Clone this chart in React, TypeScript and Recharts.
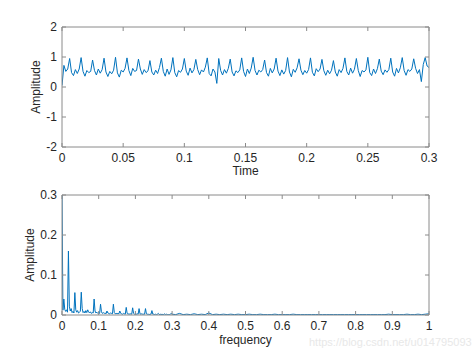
import { LineChart, Line, XAxis, YAxis } from "recharts"

const FONT = '"Liberation Sans", Arial, Helvetica, sans-serif'
const AXIS = "#8a8a8a"
const TEXT = "#262626"
const BLUE = "#0072bd"

// top subplot: signal in time
const timeTicks = [0, 0.05, 0.1, 0.15, 0.2, 0.25, 0.3]
const ampTicksTop = [-2, -1, 0, 1, 2]
const timeStep = 0.3 / 192
const signal = [
  0.05, 0.72, 0.52, 0.6, 0.95, 0.48,
  0.38, 0.58, 0.45, 0.6, 0.98, 0.52,
  0.36, 0.55, 0.48, 0.52, 0.9, 0.55,
  0.4, 0.6, 0.46, 0.58, 0.96, 0.5,
  0.35, 0.52, 0.44, 0.56, 0.99, 0.47,
  0.33, 0.56, 0.5, 0.62, 0.97, 0.55,
  0.38, 0.62, 0.52, 0.55, 0.93, 0.6,
  0.42, 0.58, 0.48, 0.54, 0.88, 0.5,
  0.4, 0.56, 0.45, 0.65, 0.96, 0.52,
  0.36, 0.6, 0.42, 0.57, 0.98, 0.48,
  0.34, 0.55, 0.49, 0.6, 0.95, 0.53,
  0.39, 0.63, 0.47, 0.58, 0.92, 0.58,
  0.41, 0.57, 0.5, 0.66, 0.97, 0.45,
  0.37, 0.6, 0.5, 0.12, 0.95, 0.55,
  0.4, 0.58, 0.46, 0.62, 0.93, 0.5,
  0.37, 0.54, 0.48, 0.57, 0.97, 0.52,
  0.35, 0.6, 0.45, 0.63, 0.99, 0.55,
  0.4, 0.56, 0.5, 0.58, 0.9, 0.48,
  0.36, 0.62, 0.47, 0.6, 0.96, 0.53,
  0.38, 0.57, 0.43, 0.55, 0.98, 0.5,
  0.34, 0.59, 0.49, 0.64, 0.94, 0.56,
  0.41, 0.55, 0.46, 0.58, 0.97, 0.49,
  0.37, 0.61, 0.51, 0.6, 0.92, 0.54,
  0.39, 0.56, 0.44, 0.56, 0.88, 0.5,
  0.36, 0.58, 0.48, 0.62, 0.97, 0.52,
  0.4, 0.63, 0.46, 0.59, 0.95, 0.55,
  0.35, 0.55, 0.5, 0.57, 0.99, 0.48,
  0.38, 0.6, 0.45, 0.61, 0.93, 0.53,
  0.41, 0.57, 0.49, 0.58, 0.96, 0.5,
  0.36, 0.62, 0.47, 0.64, 0.98, 0.55,
  0.39, 0.58, 0.52, 0.6, 0.94, 0.62,
  0.45, 0.58, 0.18, 0.75, 0.98, 0.7,
  0.65,
]

// bottom subplot: spectrum
const freqTicks = [0, 0.1, 0.2, 0.3, 0.4, 0.5, 0.6, 0.7, 0.8, 0.9, 1]
const ampTicksBottom = [0, 0.1, 0.2, 0.3]
const specLowStep = 0.0025 // 0 .. 0.2975
const specLow = [
  0.3, 0.012, 0.04, 0.014, 0.009, 0.013, 0.007, 0.16, 0.022, 0.01,
  0.016, 0.006, 0.009, 0.005, 0.056, 0.013, 0.007, 0.011, 0.005, 0.007,
  0.009, 0.057, 0.016, 0.006, 0.009, 0.005, 0.011, 0.006, 0.013, 0.008,
  0.005, 0.008, 0.004, 0.006, 0.005, 0.04, 0.01, 0.005, 0.007, 0.004,
  0.006, 0.004, 0.027, 0.008, 0.004, 0.006, 0.004, 0.005, 0.003, 0.01,
  0.005, 0.004, 0.003, 0.005, 0.004, 0.003, 0.027, 0.006, 0.003, 0.004,
  0.003, 0.004, 0.003, 0.01, 0.004, 0.003, 0.002, 0.004, 0.003, 0.002,
  0.019, 0.004, 0.002, 0.003, 0.002, 0.003, 0.002, 0.018, 0.004, 0.002,
  0.003, 0.002, 0.003, 0.002, 0.016, 0.003, 0.002, 0.003, 0.002, 0.002,
  0.002, 0.016, 0.003, 0.002, 0.002, 0.001, 0.002, 0.002, 0.011, 0.002,
  0.002, 0.001, 0.002, 0.001, 0.002, 0.004, 0.001, 0.002, 0.001, 0.002,
  0.001, 0.001, 0.003, 0.001, 0.002, 0.001, 0.001, 0.001, 0.002, 0.004,
]
const specHighStart = 0.3
const specHighStep = 0.01 // 0.30 .. 1.00
const specHigh = [
  0.002, 0.001, 0.004, 0.001, 0.002, 0.001, 0.003, 0.001, 0.002, 0.001,
  0.005, 0.001, 0.002, 0.001, 0.002, 0.001, 0.002, 0.001, 0.002, 0.001,
  0.001, 0.002, 0.001, 0.001, 0.002, 0.001, 0.001, 0.001, 0.002, 0.001,
  0.001, 0.001, 0.001, 0.002, 0.001, 0.001, 0.001, 0.001, 0.001, 0.001,
  0.001, 0.001, 0.001, 0.001, 0.001, 0.001, 0.001, 0.001, 0.001, 0.001,
  0.001, 0.001, 0.001, 0.001, 0.001, 0.001, 0.001, 0.001, 0.001, 0.002,
  0.001, 0.001, 0.001, 0.001, 0.002, 0.001, 0.001, 0.002, 0.001, 0.002,
  0.003,
]

const timeData = signal.map((v, i) => ({ t: i * timeStep, amp: v }))
const specData = [
  ...specLow.map((v, i) => ({ f: i * specLowStep, amp: v })),
  ...specHigh.map((v, i) => ({ f: specHighStart + i * specHighStep, amp: v })),
]

const BottomTick = (props: any) => {
  const { x, y, payload } = props
  return (
    <g>
      <line x1={x} x2={x} y1={y} y2={y - 4} stroke={AXIS} />
      <text x={x} y={y + 15} textAnchor="middle" fontSize={12} fill={TEXT} fontFamily={FONT}>
        {String(payload.value)}
      </text>
    </g>
  )
}

const LeftTick = (props: any) => {
  const { x, y, payload } = props
  return (
    <g>
      <line x1={x} x2={x + 4} y1={y} y2={y} stroke={AXIS} />
      <text x={x - 5} y={y + 4} textAnchor="end" fontSize={12} fill={TEXT} fontFamily={FONT}>
        {String(payload.value)}
      </text>
    </g>
  )
}

const TopTick = (props: any) => {
  const { x, y } = props
  return <line x1={x} x2={x} y1={y} y2={y + 4} stroke={AXIS} />
}

const RightTick = (props: any) => {
  const { x, y } = props
  return <line x1={x} x2={x - 4} y1={y} y2={y} stroke={AXIS} />
}

const labelStyle = { fontSize: 12, fill: TEXT, fontFamily: FONT }

export default function App() {
  return (
    <div style={{ position: "absolute", left: 0, top: 0, width: 474, height: 355, background: "#fff" }}>
      <div style={{ position: "absolute", left: 0, top: 0 }}>
        <LineChart width={474} height={180} data={timeData} margin={{ top: 26, right: 44, bottom: 0, left: 0 }}>
          <XAxis dataKey="t" type="number" domain={[0, 0.3]} ticks={timeTicks} allowDataOverflow
            height={33} tickSize={0} tickMargin={0} tickLine={false} tick={<BottomTick />}
            axisLine={{ stroke: AXIS }} interval={0}
            label={{ value: "Time", position: "insideBottom", offset: 5, style: labelStyle }} />
          <XAxis xAxisId="top" orientation="top" dataKey="t" type="number" domain={[0, 0.3]} ticks={timeTicks}
            allowDataOverflow height={1} tickSize={0} tickMargin={0} tickLine={false} tick={<TopTick />}
            axisLine={{ stroke: AXIS }} interval={0} />
          <YAxis type="number" domain={[-2, 2]} ticks={ampTicksTop} allowDataOverflow width={62}
            tickSize={0} tickMargin={0} tickLine={false} tick={<LeftTick />} axisLine={{ stroke: AXIS }} interval={0}
            label={{ value: "Amplitude", angle: -90, position: "insideLeft", offset: 36, style: { ...labelStyle, textAnchor: "middle" } }} />
          <YAxis yAxisId="right" orientation="right" type="number" domain={[-2, 2]} ticks={ampTicksTop}
            allowDataOverflow width={1} tickSize={0} tickMargin={0} tickLine={false} tick={<RightTick />}
            axisLine={{ stroke: AXIS }} interval={0} />
          {/* invisible copy so the top/right frame axes get drawn */}
          <Line xAxisId="top" yAxisId="right" dataKey="amp" stroke="none" dot={false} activeDot={false}
            legendType="none" isAnimationActive={false} />
          <Line type="linear" dataKey="amp" stroke={BLUE} strokeWidth={1} dot={false} isAnimationActive={false} />
        </LineChart>
      </div>
      <div style={{ position: "absolute", left: 0, top: 180 }}>
        <LineChart width={474} height={175} data={specData} margin={{ top: 14, right: 44, bottom: 0, left: 0 }}>
          <XAxis dataKey="f" type="number" domain={[0, 1]} ticks={freqTicks} allowDataOverflow
            height={40} tickSize={0} tickMargin={0} tickLine={false} tick={<BottomTick />}
            axisLine={{ stroke: AXIS }} interval={0}
            label={{ value: "frequency", position: "insideBottom", offset: 11, style: labelStyle }} />
          <XAxis xAxisId="top" orientation="top" dataKey="f" type="number" domain={[0, 1]} ticks={freqTicks}
            allowDataOverflow height={1} tickSize={0} tickMargin={0} tickLine={false} tick={<TopTick />}
            axisLine={{ stroke: AXIS }} interval={0} />
          <YAxis type="number" domain={[0, 0.3]} ticks={ampTicksBottom} allowDataOverflow width={62}
            tickSize={0} tickMargin={0} tickLine={false} tick={<LeftTick />} axisLine={{ stroke: AXIS }} interval={0}
            label={{ value: "Amplitude", angle: -90, position: "insideLeft", offset: 30, style: { ...labelStyle, textAnchor: "middle" } }} />
          <YAxis yAxisId="right" orientation="right" type="number" domain={[0, 0.3]} ticks={ampTicksBottom}
            allowDataOverflow width={1} tickSize={0} tickMargin={0} tickLine={false} tick={<RightTick />}
            axisLine={{ stroke: AXIS }} interval={0} />
          <Line xAxisId="top" yAxisId="right" dataKey="amp" stroke="none" dot={false} activeDot={false}
            legendType="none" isAnimationActive={false} />
          <Line type="linear" dataKey="amp" stroke={BLUE} strokeWidth={1} dot={false} isAnimationActive={false} />
        </LineChart>
      </div>
      <div style={{ position: "absolute", left: 309, top: 336, fontFamily: FONT, fontSize: 11, color: "#e8e8e8", whiteSpace: "nowrap" }}>
        https://blog.csdn.net/u014795093
      </div>
    </div>
  )
}
